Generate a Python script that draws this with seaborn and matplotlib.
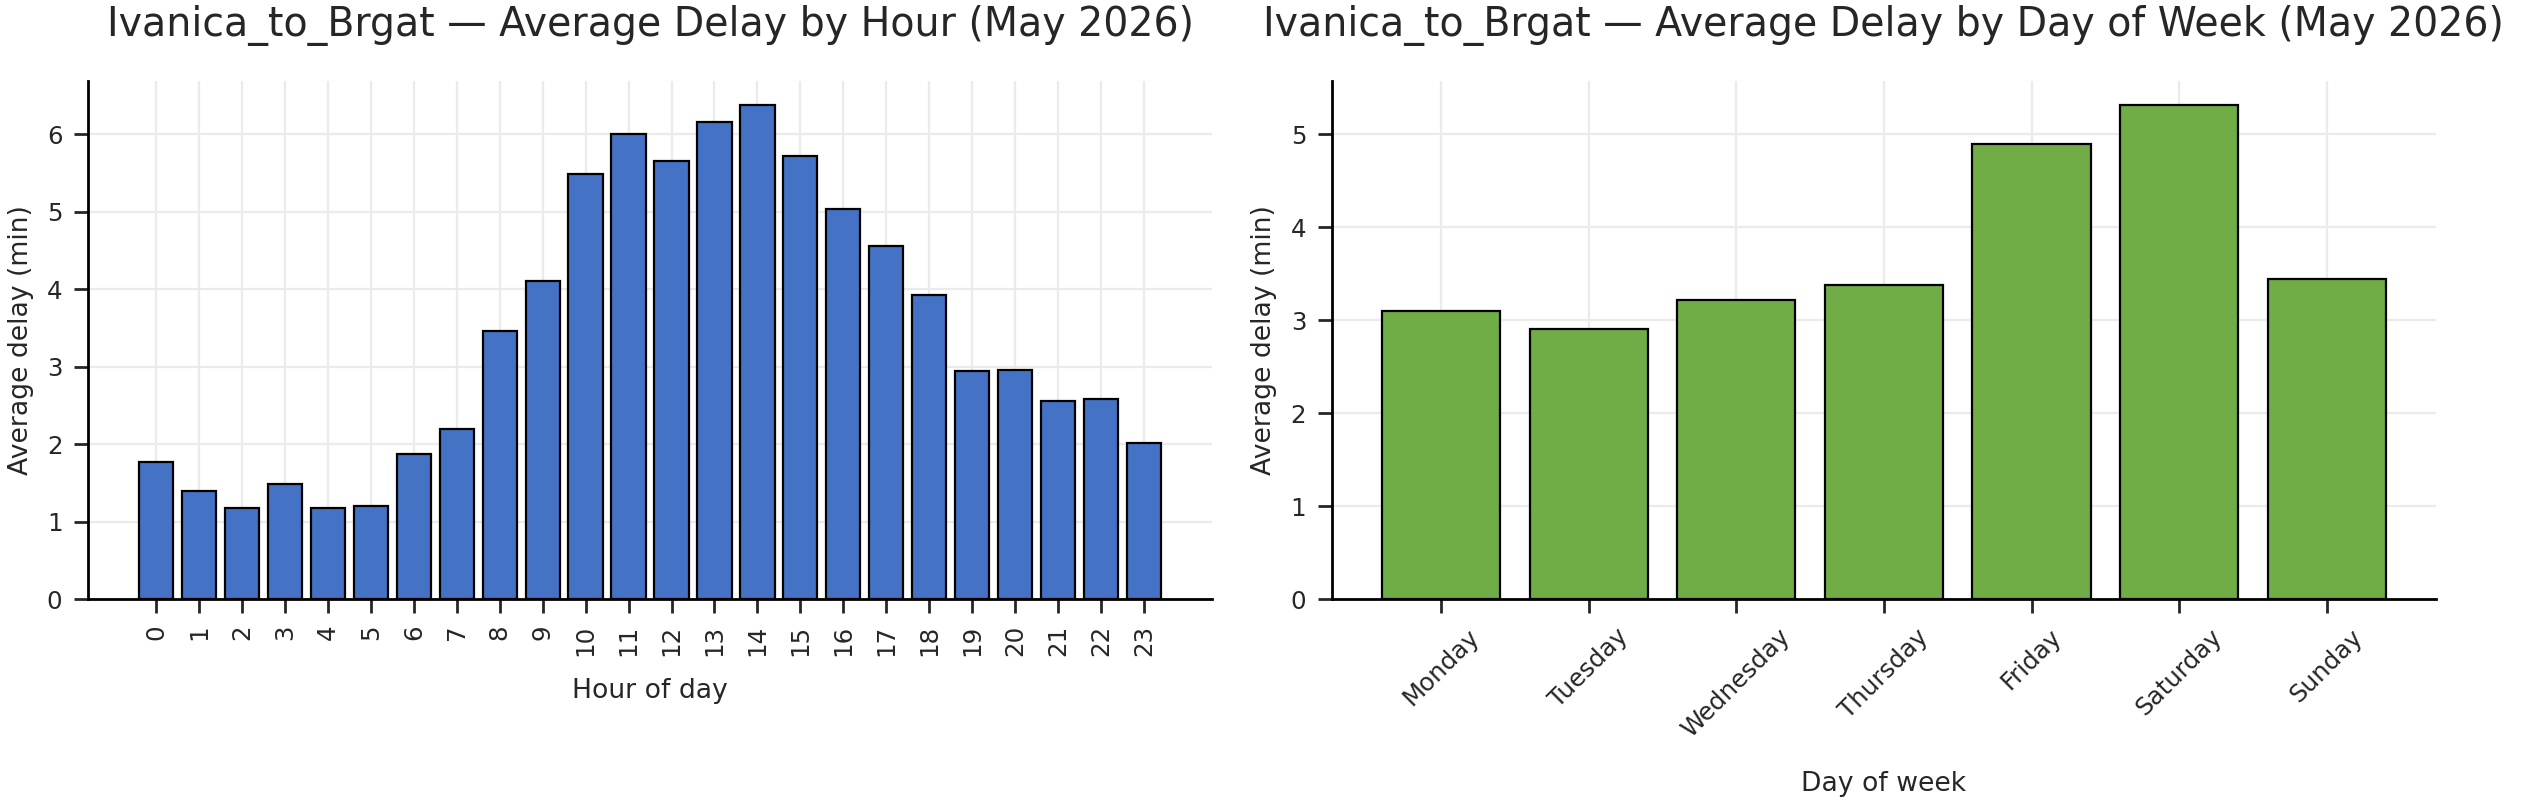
import numpy as np
import pandas as pd
import matplotlib
matplotlib.use("Agg")
import matplotlib.pyplot as plt
import seaborn as sns

# average delay by hour
hours = list(range(24))
hour_delay = [1.77, 1.40, 1.17, 1.48, 1.17, 1.20, 1.87, 2.19, 3.46, 4.10, 5.48, 6.00,
              5.65, 6.16, 6.37, 5.72, 5.03, 4.55, 3.92, 2.94, 2.96, 2.55, 2.58, 2.01]

days = ["Monday", "Tuesday", "Wednesday", "Thursday", "Friday", "Saturday", "Sunday"]
day_delay = [3.10, 2.91, 3.22, 3.38, 4.89, 5.31, 3.44]

route = "Ivanica_to_Brgat"
month = "May 2026"

sns.set_theme(style="ticks")
plt.rcParams["font.family"] = ["DejaVu Sans"]
plt.rcParams["axes.edgecolor"] = "black"
plt.rcParams["axes.linewidth"] = 1.25
plt.rcParams["xtick.major.size"] = 6.5
plt.rcParams["ytick.major.size"] = 6.5
plt.rcParams["xtick.major.width"] = 1.25
plt.rcParams["ytick.major.width"] = 1.25

DPI = 160
fig = plt.figure(figsize=(2523 / DPI, 803 / DPI), dpi=DPI)
ax1 = fig.add_axes([0.0349, 0.2540, 0.4455, 0.6455])
ax2 = fig.add_axes([0.5279, 0.2540, 0.4376, 0.6455])


def draw(ax, labels, values, color, rot, title, xlabel, xpad):
    df = pd.DataFrame({"x": [str(v) for v in labels], "y": values})
    sns.barplot(data=df, x="x", y="y", color=color, saturation=1,
                edgecolor="black", linewidth=1.0, width=0.8, ax=ax, zorder=3)
    n = len(labels)
    pad = 0.05 * (n - 1 + 0.8)
    ax.set_xlim(-0.4 - pad, n - 1 + 0.4 + pad)
    ax.set_ylim(0, max(values) * 1.05)
    ax.grid(True, color="#EBEBEB", linewidth=1.0, zorder=0)
    ax.set_axisbelow(True)
    ax.set_title(title, fontsize=17.8, pad=20)
    ax.set_xlabel(xlabel, fontsize=12, labelpad=xpad)
    ax.set_ylabel("Average delay (min)", fontsize=12, labelpad=6)
    ax.tick_params(axis="both", labelsize=11, pad=5)
    if rot == 90:
        plt.setp(ax.get_xticklabels(), rotation=90)
    else:
        plt.setp(ax.get_xticklabels(), rotation=rot, ha="center")
    sns.despine(ax=ax)


draw(ax1, hours, hour_delay, "#4472C4", 90,
     f"{route} \u2014 Average Delay by Hour ({month})", "Hour of day", 10)
draw(ax2, days, day_delay, "#70AD47", 45,
     f"{route} \u2014 Average Delay by Day of Week ({month})", "Day of week", 13)

fig.savefig("out.png", dpi=DPI)
